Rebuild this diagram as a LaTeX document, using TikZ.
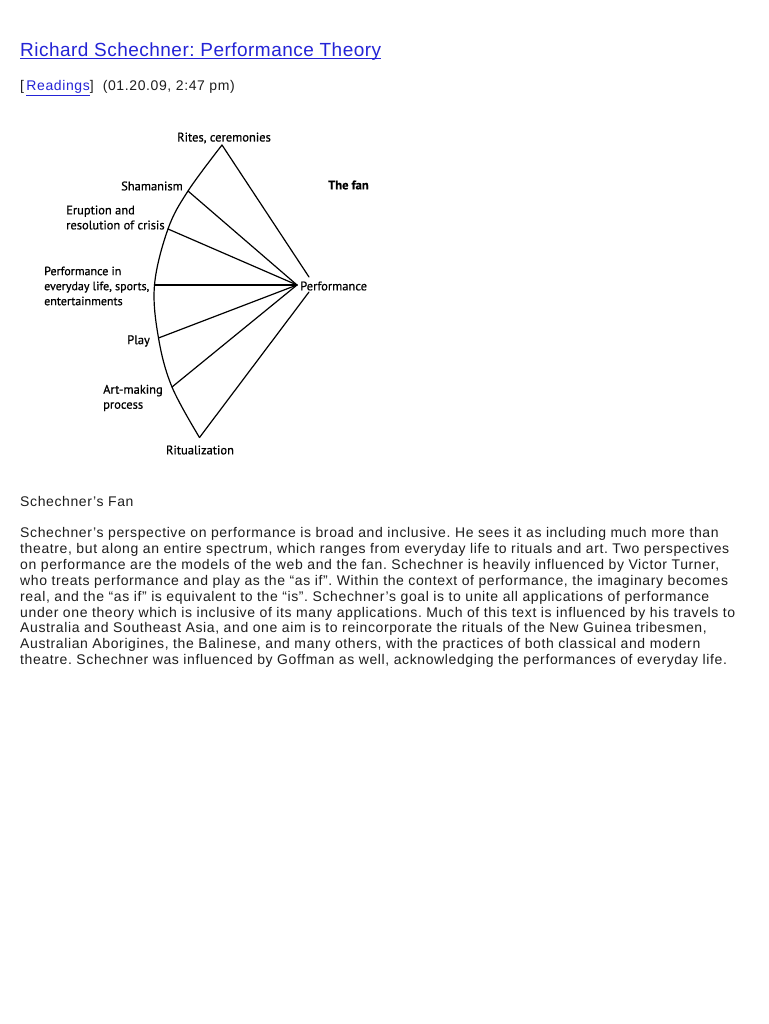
\documentclass[tikz,border=0pt]{standalone}
\usepackage{fontspec}
\setmainfont{Liberation Sans}[LetterSpace=2.5]
\newfontfamily\bodyfont{Liberation Sans}[LetterSpace=4.4]
\newfontfamily\fanfont{PT Sans}[FakeBold=0.6]
\usetikzlibrary{calc}
\frenchspacing

\definecolor{linkblue}{RGB}{36,36,214}
\definecolor{bodytext}{RGB}{30,30,30}

\tikzset{
  fanlabel/.style={font=\fanfont\fontsize{12.5}{15}\selectfont, inner sep=0pt, align=left, text=black},
  bodyline/.style={font=\bodyfont\fontsize{14}{16}\selectfont, inner sep=0pt, anchor=base west, text=bodytext},
  fanline/.style={line width=1.2pt, line cap=round, line join=round},
}

\begin{document}
\begin{tikzpicture}[x=1pt,y=1pt]
    \useasboundingbox (0,0) rectangle (768,-1024);
    \fill[white] (0,0) rectangle (768,-1024);

    % Header of the page
    \node (title) at (20,-57) [anchor=base west, inner sep=0pt, text=linkblue, font=\fontsize{19}{22}\selectfont] {Richard Schechner: Performance Theory};
    \draw[linkblue, line width=0.8pt] ([yshift=-1.8pt]title.base west) -- ([yshift=-1.8pt]title.base east);
    \node (posted) at (20,-91) [bodyline] {[\,\textcolor{linkblue}{\underline{Readings}}]\ \ (01.20.09, 2:47 pm)};

    % Define the points of the fan
    \coordinate (Top) at (222,-145);
    \coordinate (Sham) at (188,-191);
    \coordinate (Erup) at (168,-229);
    \coordinate (Every) at (154.5,-285);
    \coordinate (Play) at (158.5,-338);
    \coordinate (Art) at (172,-387);
    \coordinate (Bot) at (199.5,-437.5);
    \coordinate (P) at (297,-285);
    \coordinate (RimT) at (309,-277);
    \coordinate (RimB) at (309,-292);

    % Draw the rim of the fan
    \draw[fanline] plot[smooth, tension=0.6] coordinates {(Top) (Sham) (Erup) (Every) (Play) (Art) (Bot)};
    \draw[fanline] (Top) -- (RimT);
    \draw[fanline] (Bot) -- (RimB);

    % Draw the spokes to the centre
    \foreach \s in {Sham,Erup,Every,Play,Art}
        \draw[fanline] (\s) -- (P);

    % Place the labels of the fan
    \node (rites) at (224,-138) [fanlabel] {Rites, ceremonies};
    \node (shaman) at (183,-186) [fanlabel, anchor=east] {Shamanism};
    \node (fan) at (328,-185) [fanlabel, anchor=west, font=\fanfont\bfseries\fontsize{12.5}{15}\selectfont] {The fan};
    \node (crisis) at (66,-217.5) [fanlabel, anchor=west] {Eruption and\\resolution of crisis};
    \node (everyday) at (44,-286) [fanlabel, anchor=west, font=\fanfont\fontsize{12}{15}\selectfont] {Performance in\\everyday life, sports,\\entertainments};
    \node (perf) at (300,-286) [fanlabel, anchor=west] {Performance};
    \node (play) at (127,-341) [fanlabel, anchor=west] {Play};
    \node (artmaking) at (103,-398) [fanlabel, anchor=west] {Art-making\\process};
    \node (ritual) at (200,-450) [fanlabel] {Ritualization};

    % Caption and text below the fan
    \node (caption) at (20,-506.5) [bodyline] {Schechner’s Fan};
    \foreach \txt [count=\i from 0] in {
        {Schechner’s perspective on performance is broad and inclusive. He sees it as including much more than},
        {theatre, but along an entire spectrum, which ranges from everyday life to rituals and art. Two perspectives},
        {on performance are the models of the web and the fan. Schechner is heavily influenced by Victor Turner,},
        {who treats performance and play as the “as if”. Within the context of performance, the imaginary becomes},
        {real, and the “as if” is equivalent to the “is”. Schechner’s goal is to unite all applications of performance},
        {under one theory which is inclusive of its many applications. Much of this text is influenced by his travels to},
        {Australia and Southeast Asia, and one aim is to reincorporate the rituals of the New Guinea tribesmen,},
        {Australian Aborigines, the Balinese, and many others, with the practices of both classical and modern},
        {theatre. Schechner was influenced by Goffman as well, acknowledging the performances of everyday life.}}
        \node (line\i) at (20,-537.8-15.85*\i) [bodyline] {\txt};

\end{tikzpicture}
\end{document}
